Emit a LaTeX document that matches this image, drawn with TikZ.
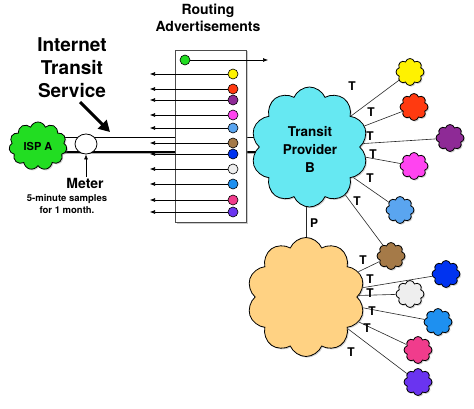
\documentclass[tikz,border=0pt]{standalone}
\usepackage{fontspec}
\setmainfont{TeX Gyre Heros}
\usetikzlibrary{shapes.symbols,shapes.geometric,shadows,arrows.meta,backgrounds}
\definecolor{ispgreen}{HTML}{22DD22}
\definecolor{tcyan}{HTML}{66E8F2}
\definecolor{torange}{HTML}{FFD283}
\definecolor{cyellow}{HTML}{FFF200}
\definecolor{cred}{HTML}{FF3A10}
\definecolor{cpurple}{HTML}{8E2A96}
\definecolor{cmagenta}{HTML}{FF44F0}
\definecolor{cltblue}{HTML}{5AA5F0}
\definecolor{cbrown}{HTML}{A57A48}
\definecolor{cblue}{HTML}{0033F0}
\definecolor{cwhite}{HTML}{EEEEEE}
\definecolor{cblueb}{HTML}{1E90F0}
\definecolor{cpink}{HTML}{F03C8C}
\definecolor{cviolet}{HTML}{6A34F0}
\begin{document}
\begin{tikzpicture}[x=1pt,y=-1pt,font=\bfseries,
  cl/.style={cloud, cloud puffs=#1, draw=black, line width=0.8pt,
    inner sep=0pt, aspect=1, drop shadow={shadow xshift=1.2pt, shadow yshift=-1.2pt, opacity=0.35}},
  sc/.style={cl=8, cloud puff arc=150, minimum width=28pt, minimum height=27pt, fill=#1},
  dot/.style={circle, draw=black, line width=0.6pt, minimum size=10pt, inner sep=0pt, fill=#1},
  tl/.style={font=\bfseries\fontsize{12}{12}\selectfont, inner sep=0pt},
  link/.style={line width=0.6pt, draw=black!85},
  adv/.style={-{Latex[length=5pt,width=4pt]}, line width=0.6pt},
]
\useasboundingbox (0,0) rectangle (474,409);
% texts
\node[align=center, font=\bfseries\fontsize{14}{17}\selectfont] (rt) at (208,18) {Routing\\Advertisements};
\node[align=center, font=\bfseries\fontsize{19}{23}\selectfont] (title) at (72,68) {Internet\\Transit\\Service};
% pipe
\coordinate (p1) at (60,137);
\coordinate (p2) at (60,152);
\coordinate (p3) at (262,137);
\coordinate (p4) at (262,152);
\draw[line width=2.6pt, black!30] ([yshift=-1.2pt]p2) -- ([yshift=-1.2pt]p4);
\draw[line width=0.8pt] (p1) -- (p3);
\draw[line width=1.6pt] (p2) -- (p4);
% ISP A
\node[cl=11, cloud puff arc=140, fill=ispgreen, minimum width=58pt, minimum height=48pt] (isp) at (38,146) {};
\node[font=\bfseries\fontsize{11}{11}\selectfont] at (isp) {ISP A};
% meter
\node[ellipse, draw=black, line width=0.8pt, fill=white, minimum width=22pt, minimum height=20pt, inner sep=0pt] (meter) at (86,144) {};
\node[font=\bfseries\fontsize{14}{14}\selectfont, inner sep=1pt] (mt) at (85,183) {Meter};
\node[align=center, font=\bfseries\fontsize{9.5}{12}\selectfont] (ms) at (67,204) {5-minute samples\\for 1 month.};
\draw[-{Latex[length=5pt,width=4pt]}, line width=0.6pt] (mt.north -| meter.south) -- (meter.south);
% big arrow
\coordinate (ba1) at (80,102);
\coordinate (ba2) at (110,132);
\draw[line width=3pt, -{Triangle[length=11pt,width=12pt]}] (ba1) -- (ba2);
% routing box
\node[draw=black!70, line width=0.8pt, fill=white, minimum width=71pt, minimum height=172pt, inner sep=0pt,
  drop shadow={shadow xshift=1.5pt, shadow yshift=-1.5pt, opacity=0.4}] (box) at (210.5,136) {};
\coordinate (L) at (150,0);
\coordinate (R) at (268,0);
\node[dot=ispgreen] (g) at (185,60) {};
\draw[adv] (g.east) -- (g.east -| R);
\foreach \n/\c/\y in {1/cyellow/74, 2/cred/89, 3/cpurple/100, 4/cmagenta/115, 5/cltblue/128, 6/cbrown/143, 7/cblue/154, 8/cwhite/169, 9/cblueb/184, 10/cpink/200, 11/cviolet/212}{
  \node[dot=\c] (d\n) at (233,\y) {};
  \draw[adv] (d\n.west) -- (d\n.west -| L);
}
% big clouds
\node[cl=10, cloud puff arc=135, fill=tcyan, minimum width=117pt, minimum height=120pt] (B) at (309.5,147) {};
\node[align=center, font=\bfseries\fontsize{13.5}{18}\selectfont] at (310,149) {Transit\\Provider\\B};
\node[cl=10, cloud puff arc=135, fill=torange, minimum width=118pt, minimum height=119pt] (O) at (306,297) {};
% small clouds
\node[sc=cyellow] (s1) at (410,72) {};
\node[sc=cred] (s2) at (414,107) {};
\node[sc=cpurple] (s3) at (450,138) {};
\node[sc=cmagenta] (s4) at (414,166) {};
\node[sc=cltblue] (s5) at (400,210) {};
\node[sc=cbrown] (s6) at (391,256) {};
\node[sc=cblue] (s7) at (446,274) {};
\node[sc=cwhite] (s8) at (410,294) {};
\node[sc=cblueb] (s9) at (438,322) {};
\node[sc=cpink] (s10) at (418,350) {};
\node[sc=cviolet] (s11) at (418,382) {};
\begin{pgfonlayer}{background}
\foreach \i in {1,...,6}{\draw[link] (B) -- (s\i);}
\foreach \i in {6,...,11}{\draw[link] (O) -- (s\i);}
\draw[link] (O.north) -- (O.north |- B.south);
\end{pgfonlayer}
% labels
\foreach \x/\y in {352/86, 371/112, 370/136, 373/154, 370/178, 357/201, 363/260, 370/279, 370/293, 372/311, 367/328, 351/352}{
  \node[tl] at (\x,\y) {T};
}
\node[tl] (plab) at (314,223) {P};
\end{tikzpicture}
\end{document}
